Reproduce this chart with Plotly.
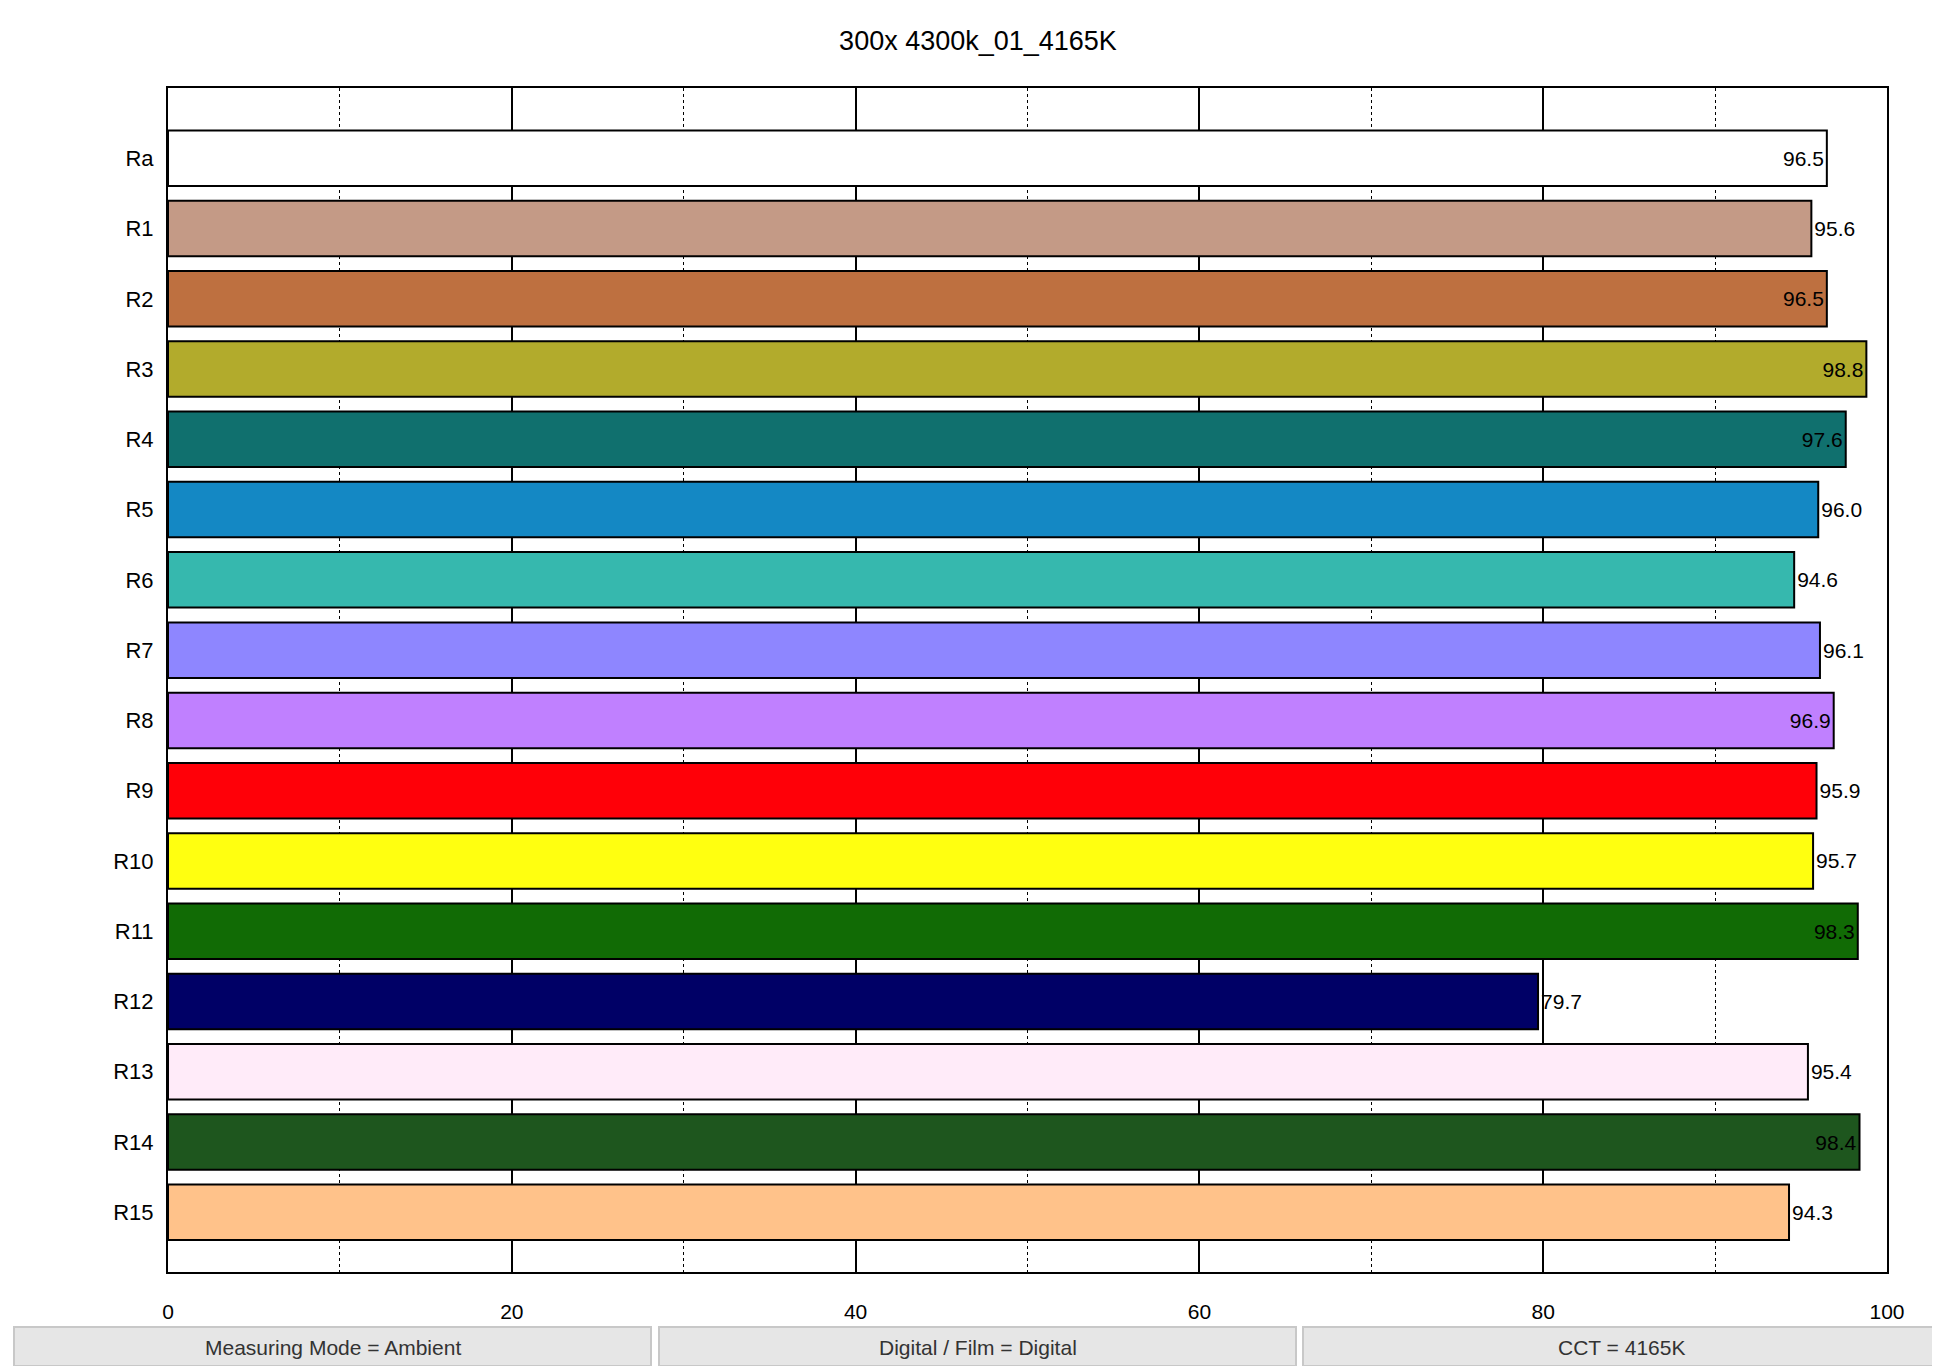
import plotly.graph_objects as go

categories = ["Ra","R1","R2","R3","R4","R5","R6","R7","R8","R9","R10","R11","R12","R13","R14","R15"]
values = [96.5,95.6,96.5,98.8,97.6,96.0,94.6,96.1,96.9,95.9,95.7,98.3,79.7,95.4,98.4,94.3]
colors = ["#FFFFFF","#C49A86","#BE7040","#B2AB2C","#10706E","#1488C4","#36B8AE","#8E86FF",
          "#C080FF","#FF0008","#FFFF10","#116B05","#000066","#FFEBF9","#1E561E","#FFC28A"]
inside = ["Ra","R2","R3","R4","R8","R11","R14"]
x_ticks = [0,20,40,60,80,100]
title = "300x 4300k_01_4165K"
footers = ["Measuring Mode = Ambient","Digital / Film = Digital","CCT = 4165K"]

ypos = list(range(len(categories)))
fig = go.Figure(go.Bar(
    x=values, y=ypos, orientation="h", width=0.79,
    marker=dict(color=colors, line=dict(color="black", width=2)),
    text=[f"{v:.1f}" for v in values],
    textposition=["inside" if c in inside else "outside" for c in categories],
    insidetextanchor="end", cliponaxis=False,
    textfont=dict(color="black", size=21, family="Liberation Sans"),
    outsidetextfont=dict(color="black", size=21, family="Liberation Sans"),
    insidetextfont=dict(color="black", size=21, family="Liberation Sans"),
))
fig.update_layout(
    width=1940, height=1366, plot_bgcolor="white", paper_bgcolor="white",
    margin=dict(l=160, r=61, t=80, b=102), showlegend=False,
    font=dict(family="Liberation Sans", color="black", size=21),
    title=dict(text=title, x=0.5, xanchor="center", y=1-33/1366, yanchor="middle", font=dict(size=27)),
    uniformtext=dict(mode=False),
)
fig.update_xaxes(range=[0,100], tickvals=x_ticks, showgrid=True, gridcolor="black", gridwidth=1.5,
                 showline=True, linecolor="black", linewidth=2, mirror=True, zeroline=False,
                 ticks="", ticklabelstandoff=20, tickfont=dict(size=21),
                 minor=dict(dtick=10, showgrid=True, gridcolor="black", griddash="dot", gridwidth=1))
fig.update_yaxes(range=[15.85,-1.0], tickvals=ypos, ticktext=categories, showgrid=False,
                 showline=True, linecolor="black", linewidth=2, mirror=True, zeroline=False,
                 ticks="", ticklabelstandoff=8, tickfont=dict(size=22))
bx = [(6,643),(651,1288),(1295,1932)]
for (x0,x1),t in zip(bx,footers):
    fig.add_shape(type="rect", xref="paper", yref="paper",
                  x0=(x0-160)/1719, x1=(x1-160)/1719, y0=-(1358-1264)/1184, y1=-(1319-1264)/1184,
                  fillcolor="#E6E6E6", line=dict(color="#C8C8C8", width=2))
    fig.add_annotation(text=t, xref="paper", yref="paper", x=((x0+x1)/2-160)/1719,
                       y=-(1339-1264)/1184, showarrow=False, xanchor="center", yanchor="middle",
                       font=dict(size=21, color="#333333"))
fig.write_html("out.html")
